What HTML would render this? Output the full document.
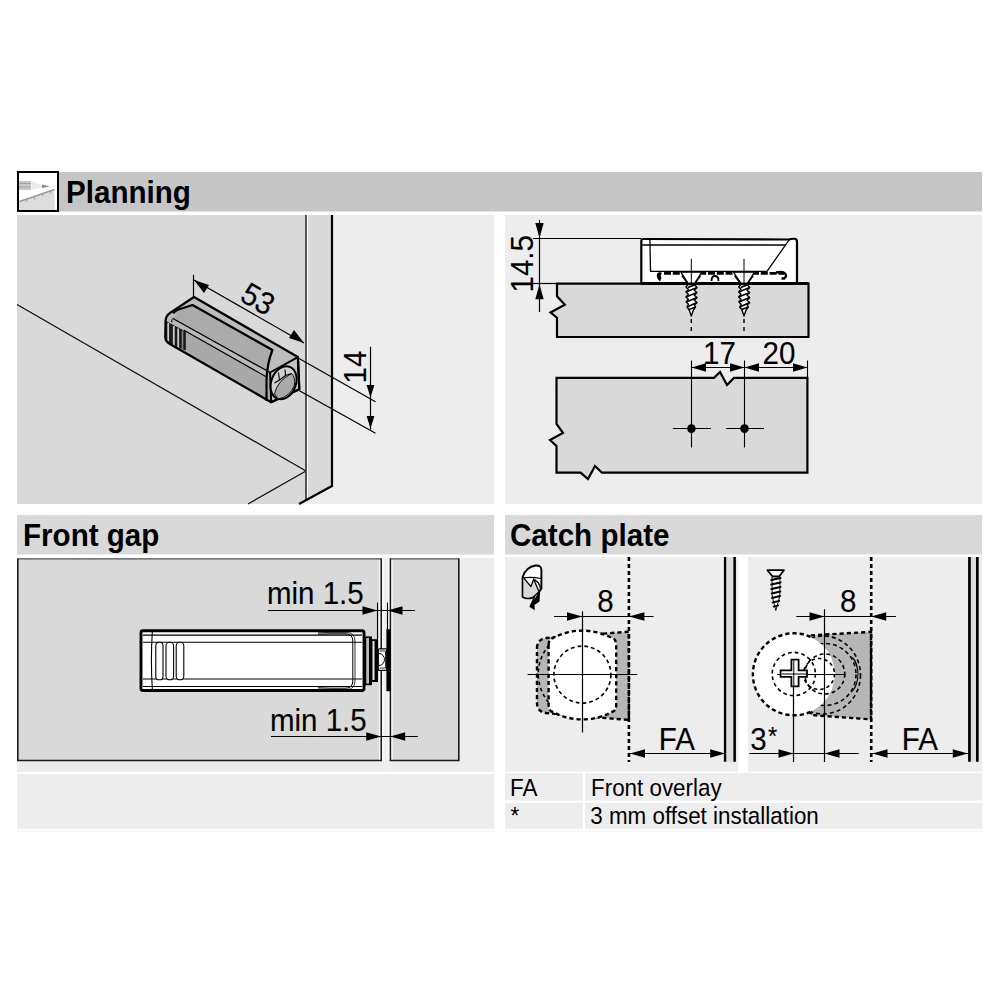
<!DOCTYPE html>
<html><head><meta charset="utf-8">
<style>
html,body{margin:0;padding:0;background:#fff;width:1000px;height:1000px;overflow:hidden}
svg{display:block}
text{font-family:"Liberation Sans",sans-serif;fill:#000}
.hb{font-weight:bold;font-size:29.6px}
.dim{font-size:29.5px;stroke:#000;stroke-width:0.1px}
.tb{font-size:22.4px}
</style></head><body>
<svg width="1000" height="1000" viewBox="0 0 1000 1000">


<!-- ============ PLANNING HEADER ============ -->
<rect x="59" y="172" width="923" height="39.5" fill="#c6c6c6"/>
<rect x="18" y="172" width="40" height="39" fill="#fff" stroke="#000" stroke-width="2"/>
<path d="M19,202 L54,189 L55,210 L19,210 Z" fill="#dcdcdc"/>
<path d="M19.5,201.5 L54.5,189.5" stroke="#9a9a9a" stroke-width="1.5"/>
<path d="M26,199 L27,202 M34,196.5 L35,199.5 M42,193.5 L43,196.5 M50,190.5 L51,193.5" stroke="#9a9a9a" stroke-width="1"/>
<rect x="19" y="181" width="12" height="9" fill="#c8c8c8"/>
<path d="M19,183.5 H31 M19,187 H31" stroke="#a0a0a0" stroke-width="1"/>
<path d="M31,181 L45,186.5 L31,190 Z" fill="#ececec"/>
<path d="M42,184.5 L50,186.5 L42,188 Z" fill="#8a8a8a"/>
<text class="hb" x="66" y="203" transform="translate(0,203) scale(1,1.07) translate(0,-203)">Planning</text>

<!-- ============ PLANNING PANEL ============ -->
<rect x="17" y="215" width="477" height="289" fill="#ededed"/>
<rect x="17" y="215" width="315" height="289" fill="#d9d9d9"/>
<rect x="332" y="486" width="20" height="18" fill="#ededed"/>
<path d="M332,486 L299,504 L332,504 Z" fill="#ededed"/>
<!-- cabinet lines -->
<line x1="17" y1="304.5" x2="306" y2="471" stroke="#111" stroke-width="1.3"/>
<line x1="306" y1="471" x2="248" y2="504" stroke="#111" stroke-width="1.3"/>
<line x1="306" y1="215" x2="306" y2="500" stroke="#333" stroke-width="1.6"/>
<line x1="307.5" y1="215" x2="307.5" y2="498" stroke="#fff" stroke-width="1"/>
<line x1="332" y1="215" x2="332" y2="487" stroke="#000" stroke-width="2.2"/>
<line x1="332" y1="486" x2="299" y2="504" stroke="#000" stroke-width="2.2"/>
<!-- product (planning) -->
<g stroke-linejoin="round">
<path d="M194,297 L297.9,357.1 L299.3,389.3 L271.2,402.2 L171.2,344.8 Q165.3,342 165.3,337 L165.6,321 Q166,315 170.1,312.9 Z" fill="#a9a9a9"/>
<path d="M194,297 L297.9,357.1 L270.1,372.5 L172.9,318.5 L166,320 Q166,315 170.1,312.9 Z" fill="#bdbdbd"/>
<path d="M171,322 Q171,313 177,310 L192.5,305 L272.4,350 Q268.5,360 268.5,372 L172.9,318.5 Z" fill="#ababab"/>
<path d="M172.9,318.5 L270.1,372.5 L270,379 L184,330.2 L173,325 Z" fill="#bababa"/>
<path d="M171,322 Q171,313 177,310 L192.5,305 L272.4,350 Q267,364 266.5,380 L266.5,401" fill="none" stroke="#000" stroke-width="2.2"/>
<path d="M270.1,372.5 L297.9,357.1 L299.3,389.3 L271.2,402.2 Z" fill="#c4c4c4" stroke="#000" stroke-width="2"/>
<line x1="172.9" y1="318.5" x2="270.1" y2="372.5" stroke="#000" stroke-width="1.3"/>
<line x1="184" y1="330.2" x2="267" y2="377.2" stroke="#000" stroke-width="1.2"/>
<!-- rear ribs -->
<path d="M165.6,321 L185.8,331.5 L185.8,350.4 L171.2,344.8 Q165.3,342 165.3,337 Z" fill="#1a1a1a"/>
<path d="M168.2,323 L168.2,341.5 M173.8,326 L173.8,346.6 M178.2,328.5 L178.2,348" stroke="#c8c8c8" stroke-width="1.8"/>
<path d="M182.5,330.5 L182.5,349.2" stroke="#888" stroke-width="1.6"/>
<path d="M166,320 Q166,314 171,312.5 L177,315 Q171,317 170.8,323 Z" fill="#bdbdbd"/>
<path d="M194,297 L297.9,357.1 L299.3,389.3 L271.2,402.2 L171.2,344.8 Q165.3,342 165.3,337 L165.6,321 Q166,315 170.1,312.9 Z" fill="none" stroke="#000" stroke-width="2.3"/>
<!-- hole -->
<ellipse cx="283.6" cy="382.8" rx="12.3" ry="17" transform="rotate(21 283.6 382.8)" fill="#d0d0d0" stroke="#000" stroke-width="2"/>
<path d="M274.5,394 Q277,381 291.5,373.5 Q295.5,377 294.5,385 Q290,397 278,399 Z" fill="#aaaaaa" stroke="#000" stroke-width="0.9"/>
<path d="M274.5,383 L279.5,380 L278.5,372.5 M279.5,380 L285.5,375.5 L285,369.5 M285.5,375.5 L291.5,373.5" fill="none" stroke="#000" stroke-width="1.1"/>
</g>
<!-- extension lines for 14 -->
<line x1="299" y1="358.5" x2="375.5" y2="401.8" stroke="#000" stroke-width="1.2"/>
<line x1="299.5" y1="390.8" x2="375.5" y2="433.3" stroke="#000" stroke-width="1.2"/>
<line x1="370.5" y1="346.8" x2="370.5" y2="429.6" stroke="#000" stroke-width="1.2"/>
<path d="M370.5,397.5 L366.6,385 L374.4,385 Z M370.5,428.5 L366.6,416 L374.4,416 Z" fill="#000"/>
<text class="dim" transform="translate(366.1,367) rotate(-90) scale(1,1.06)" text-anchor="middle">14</text>
<!-- 53 dimension -->
<line x1="193.5" y1="274.8" x2="193.5" y2="296.5" stroke="#000" stroke-width="1.2"/>
<line x1="194" y1="280" x2="304" y2="343" stroke="#000" stroke-width="1.2"/>
<path d="M194,280 L204,293 L209,285 Z M304,343 L289,338 L294,330 Z" fill="#000"/>
<text class="dim" transform="translate(252.6,308.2) rotate(29.8) scale(1,1.06)" text-anchor="middle">53</text>

<!-- ============ RIGHT TOP PANEL ============ -->
<rect x="505" y="215" width="477" height="289" fill="#ededed"/>
<!-- 14.5 dim -->
<line x1="539.5" y1="220" x2="539.5" y2="312" stroke="#000" stroke-width="1.2"/>
<path d="M539.5,238 L535.3,223 L543.7,223 Z M539.5,284.3 L535.3,299.3 L543.7,299.3 Z" fill="#000"/>
<line x1="533" y1="238.5" x2="641" y2="238.5" stroke="#000" stroke-width="1.2"/>
<line x1="533" y1="283.5" x2="557" y2="283.5" stroke="#000" stroke-width="1.2"/>
<text class="dim" transform="translate(532.7,263.8) rotate(-90) scale(1,1.06)" text-anchor="middle">14.5</text>
<!-- upper board -->
<path d="M557,283.6 H808.5 V337 H557 V317.7 L550.5,312.5 L564.8,304.7 L557,296.3 Z" fill="#d9d9d9" stroke="#000" stroke-width="2.2" stroke-linejoin="miter"/>
<!-- catch body side view -->
<path d="M641.3,283 V241 Q641.3,239 643.5,239 L789,239.5 Q791,238.6 795,238.8 Q797,239 797,242 V283 Z" fill="#fff" stroke="#000" stroke-width="2.2"/>
<path d="M641.3,245 H785" stroke="#000" stroke-width="1.4"/>
<path d="M649.9,239.5 L650.5,271.4 H767 L789,240" fill="none" stroke="#000" stroke-width="1.3"/>
<path d="M664,273.3 H784" stroke="#000" stroke-width="2.8" stroke-dasharray="7,1.8"/>
<path d="M660,272 q-3.5,0.5 -3.2,4 q0.5,4 3.2,5.5 L661.5,278 Q660,275 662,273 Z" fill="#000"/>
<path d="M711.5,281 q0,-5 3.5,-5 q3.5,0 3.5,5" fill="none" stroke="#000" stroke-width="1.8"/>
<path d="M776,272.5 q7,-1.5 9,1 q2.5,2.5 -1,5 l-2.5,0" fill="none" stroke="#000" stroke-width="2.4"/>
<line x1="641" y1="283.5" x2="808.5" y2="283.5" stroke="#000" stroke-width="3"/>
<!-- screws -->
<g>
<path d="M680.8,272.2 L701.5,272.2 L695.2,283 L688,283 Z" fill="#fff" stroke="#000" stroke-width="1.2"/>
<path d="M682,275.5 l5.5,7.5 M700.5,275.5 l-5.5,7.5" stroke="#000" stroke-width="1.8"/>
<path d="M688,284.5 L686,287 L688.3,289.3 L686,292 L688.3,294.3 L686,297 L688.3,299.3 L686.2,302 L688.5,304.3 L687,307 L689,309.5 L691.3,316 L693.6,309.5 L695.6,307 L694.4,305 L697,302.5 L694.3,300.3 L697,297.5 L694.3,295.3 L697,292.5 L694.3,290.3 L697,287.5 L694.5,284.5 Z" fill="#fff" stroke="#000" stroke-width="1.4" stroke-linejoin="round"/>
<path d="M686,292 L697,287.5 M686,297 L697,292.5 M686.2,302 L697,297.5 M687,307 L697,302.5 M689,309.5 L695.6,307 M688,287.5 L694.5,285" stroke="#000" stroke-width="1.5"/>
<path d="M691.3,319 V333" stroke="#000" stroke-width="1.4" stroke-dasharray="4,4"/>
<line x1="691.3" y1="258.8" x2="691.3" y2="284" stroke="#000" stroke-width="1"/>
</g>
<g transform="translate(52.7,0)">
<path d="M680.8,272.2 L701.5,272.2 L695.2,283 L688,283 Z" fill="#fff" stroke="#000" stroke-width="1.2"/>
<path d="M682,275.5 l5.5,7.5 M700.5,275.5 l-5.5,7.5" stroke="#000" stroke-width="1.8"/>
<path d="M688,284.5 L686,287 L688.3,289.3 L686,292 L688.3,294.3 L686,297 L688.3,299.3 L686.2,302 L688.5,304.3 L687,307 L689,309.5 L691.3,316 L693.6,309.5 L695.6,307 L694.4,305 L697,302.5 L694.3,300.3 L697,297.5 L694.3,295.3 L697,292.5 L694.3,290.3 L697,287.5 L694.5,284.5 Z" fill="#fff" stroke="#000" stroke-width="1.4" stroke-linejoin="round"/>
<path d="M686,292 L697,287.5 M686,297 L697,292.5 M686.2,302 L697,297.5 M687,307 L697,302.5 M689,309.5 L695.6,307 M688,287.5 L694.5,285" stroke="#000" stroke-width="1.5"/>
<path d="M691.3,319 V333" stroke="#000" stroke-width="1.4" stroke-dasharray="4,4"/>
<line x1="691.3" y1="258.8" x2="691.3" y2="284" stroke="#000" stroke-width="1"/>
</g>

<!-- lower board -->
<path d="M556.5,377.9 H714 L720,372 L727,385 L734,377.9 H807.4 V472.7 H602 L595,466 L588,479 L580.6,472.7 H556.5 V446 L550,440 L563,433 L556.5,424 Z" fill="#d9d9d9" stroke="#000" stroke-width="2.2" stroke-linejoin="miter"/>
<!-- hole marks -->
<path d="M691.5,360.5 V447.5 M744.5,360.5 V447.5 M672.8,428.5 H711 M726,428.5 H764" stroke="#000" stroke-width="1.1"/>
<line x1="807.5" y1="360.5" x2="807.5" y2="378" stroke="#000" stroke-width="1.1"/>
<circle cx="691.4" cy="428.6" r="4.3" fill="#000"/>
<circle cx="744.5" cy="428.6" r="4.3" fill="#000"/>
<line x1="691.5" y1="367.5" x2="807.5" y2="367.5" stroke="#000" stroke-width="1.2"/>
<path d="M691.5,367.5 L706,363.3 L706,371.7 Z M744.5,367.5 L730,363.3 L730,371.7 Z M744.5,367.5 L759,363.3 L759,371.7 Z M807.5,367.5 L793,363.3 L793,371.7 Z" fill="#000"/>
<text class="dim" transform="translate(719.5,363.8) scale(1,1.06)" text-anchor="middle">17</text>
<text class="dim" transform="translate(779,363.8) scale(1,1.06)" text-anchor="middle">20</text>

<!-- ============ FRONT GAP HEADER ============ -->
<rect x="17" y="515" width="477" height="39.5" fill="#d9d9d9"/>
<text class="hb" x="23" y="546.3" transform="translate(0,546.3) scale(1,1.07) translate(0,-546.3)">Front gap</text>

<!-- ============ CATCH PLATE HEADER ============ -->
<rect x="505" y="515" width="477" height="39.5" fill="#d9d9d9"/>
<text class="hb" x="510" y="546.3" transform="translate(0,546.3) scale(1,1.07) translate(0,-546.3)">Catch plate</text>

<!-- ============ FRONT GAP PANEL ============ -->
<rect x="17" y="558" width="477" height="214" fill="#ededed"/>
<rect x="17" y="558" width="365" height="203" fill="#d9d9d9"/>
<rect x="382" y="558" width="8" height="214" fill="#efefef"/>
<rect x="390" y="558" width="69" height="203" fill="#d9d9d9"/>
<path d="M17.8,558.8 H381.2 M390.4,558.8 H458.8" stroke="#555" stroke-width="1.3"/>
<path d="M17.8,558.5 V760.5 H381.2 V558.5 M390.4,558.5 V760.5 H458.8 V558.5" fill="none" stroke="#1a1a1a" stroke-width="1.6"/>
<path d="M379.6,560 V759.5 M392.1,560 V759.5" stroke="#fafafa" stroke-width="1.1"/>
<path d="M383,559 V760 M388.7,559 V760" stroke="#fcfcfc" stroke-width="1"/>

<rect x="17" y="774" width="477" height="55" fill="#ededed"/>
<!-- catch body top view -->
<g>
<path d="M143,630.8 H362 Q364,630.8 364,632.8 V688.5 Q364,690.5 362,690.5 H143 Q141,690.5 141,688.5 V632.8 Q141,630.8 143,630.8 Z" fill="#fff" stroke="#000" stroke-width="2.9"/>
<path d="M143,635.1 H362 M143,642.3 H362 M143,679 H362 M143,686.5 H362" stroke="#000" stroke-width="1.1" fill="none"/>
<path d="M318,634.2 Q330,633.6 346,633.8 Q352.8,634.2 352.8,641 V681 Q352.8,687.8 346,688.2 Q330,688.4 318,687.8" fill="none" stroke="#000" stroke-width="1"/>
<path d="M318,632.8 Q330,632.2 346.5,632.4 Q355,632.8 355,641 V681 Q355,689.3 346.5,689.6 Q330,689.8 318,689.2" fill="none" stroke="#000" stroke-width="0.8"/>
<path d="M152.3,632 Q150.5,660 152.3,689" fill="none" stroke="#000" stroke-width="1.1"/>
<rect x="155.8" y="642.3" width="7.2" height="37.5" rx="3.4" fill="#fff" stroke="#000" stroke-width="1.1"/>
<rect x="166" y="642.3" width="7.6" height="37.5" rx="3.6" fill="#fff" stroke="#000" stroke-width="1.1"/>
<rect x="176.2" y="642.3" width="7.6" height="37.5" rx="3.6" fill="#fff" stroke="#000" stroke-width="1.1"/>
<!-- steps -->
<rect x="365" y="636.4" width="7" height="48.8" fill="#000"/>
<rect x="366.2" y="638" width="2.8" height="45.6" fill="#b8b8b8"/>
<rect x="372" y="639.2" width="6" height="42.8" fill="#000"/>
<rect x="372.5" y="641" width="2" height="39" fill="#e8e8e8"/>
<!-- pin -->
<rect x="378.3" y="648.8" width="8.5" height="21.6" rx="1" fill="#fff" stroke="#000" stroke-width="1.2"/>
<path d="M379.5,651 H385.5 V668 H379.5" fill="none" stroke="#000" stroke-width="0.8"/>
<path d="M379,653.5 A5,5.5 0 0 1 379,665.5" fill="none" stroke="#000" stroke-width="1"/>
<!-- plate -->
<rect x="386.4" y="629.2" width="4.2" height="62" fill="#000"/>
</g>
<!-- min 1.5 dims -->
<line x1="377.5" y1="602.6" x2="377.5" y2="648.8" stroke="#000" stroke-width="1.1"/>
<line x1="387.5" y1="602.6" x2="387.5" y2="629.2" stroke="#000" stroke-width="1.1"/>
<line x1="268" y1="610.5" x2="415" y2="610.5" stroke="#000" stroke-width="1.2"/>
<path d="M377.5,610.5 L362.5,606.3 L362.5,614.7 Z M387.5,610.5 L402.5,606.3 L402.5,614.7 Z" fill="#000"/>
<text class="dim" transform="translate(267,604.2) scale(1,1.06)">min 1.5</text>
<line x1="271" y1="736.5" x2="418" y2="736.5" stroke="#000" stroke-width="1.2"/>
<path d="M381.2,736.5 L366.2,732.3 L366.2,740.7 Z M390.2,736.5 L405.2,732.3 L405.2,740.7 Z" fill="#000"/>
<text class="dim" transform="translate(270,731) scale(1,1.06)">min 1.5</text>

<!-- ============ CATCH PLATE PANEL ============ -->
<rect x="505" y="557" width="233" height="214.6" fill="#ededed"/>
<rect x="748" y="557" width="234" height="214.6" fill="#ededed"/>
<!-- left sub-panel -->
<g>
<path d="M725.2,557 V761.7 M734.6,557 V761.7" stroke="#000" stroke-width="2.6"/>
<rect x="726.5" y="557" width="6.6" height="204.7" fill="#dcdcdc"/>
<path d="M537,648 Q537,639.5 546,638 L628.9,631.7 V720 L546,713 Q537,711.5 537,703 Z" fill="#b6b6b6" stroke="#000" stroke-width="2.4" stroke-dasharray="4.2,3"/>
<path d="M548.6,645 Q548.6,639 553,638 A62,62 0 0 1 611.8,638 Q616.2,639 616.2,645 V705 Q616.2,711 611.8,712 A62,62 0 0 1 553,712 Q548.6,711 548.6,705 Z" fill="#fff" stroke="#000" stroke-width="2.4" stroke-dasharray="4.2,3"/>
<path d="M548.6,702.3 A44,44 0 0 1 548.6,645.7" fill="none" stroke="#000" stroke-width="1.6" stroke-dasharray="3.5,3"/>
<circle cx="582.4" cy="674.6" r="28.5" fill="none" stroke="#000" stroke-width="1.6" stroke-dasharray="3.8,3"/>
<path d="M527.6,674.5 H637.3 M582.5,611.2 V732.4" stroke="#000" stroke-width="1.2"/>
<line x1="628.9" y1="557" x2="628.9" y2="762" stroke="#000" stroke-width="2.6" stroke-dasharray="4,3"/>
<line x1="554" y1="616.5" x2="653.6" y2="616.5" stroke="#000" stroke-width="1.2"/>
<path d="M582.5,616.5 L567,612.3 L567,620.7 Z M628.9,616.5 L644.4,612.3 L644.4,620.7 Z" fill="#000"/>
<text class="dim" transform="translate(605.5,612.2) scale(1,1.06)" text-anchor="middle">8</text>
<line x1="629" y1="753.5" x2="725.2" y2="753.5" stroke="#000" stroke-width="1.2"/>
<path d="M630,753.5 L645,749.3 L645,757.7 Z M725.2,753.5 L710.2,749.3 L710.2,757.7 Z" fill="#000"/>
<text class="dim" transform="translate(676.8,749.6) scale(1,1.06)" text-anchor="middle">FA</text>
<!-- catch icon -->
<path d="M522.6,597 V577 Q526,567 535.5,565.5 Q541.4,565.2 541.4,570 V588.5 Q539,593 533,597.5 Q527,599.5 522.6,597 Z" fill="#fff" stroke="#000" stroke-width="1.9" stroke-linejoin="round"/>
<path d="M523.6,578.5 L530.9,586.4 L533.7,579.3 L538.3,590.5 Q536,594 532,596.5 Q526,598.5 523.6,596 Z" fill="#d9d9d9"/>
<path d="M523,577.8 Q532,576.5 541,578.5" fill="none" stroke="#000" stroke-width="1.2"/>
<path d="M524,578.4 L530.9,586.4 L533.7,579.3 L538.6,590.8 M534.5,579.5 L538,582.5 Q540,585 540.5,589" fill="none" stroke="#000" stroke-width="1.3"/>
<path d="M540.2,590.5 L539.5,601.5 L534.5,605 L534.8,610.3 L529.3,606.8 L533,598.5 Z" fill="#000"/>
<path d="M535.5,596 L538,593.5 L534,599.5 Z" fill="#fff"/>
</g>
<!-- right sub-panel -->
<g>
<path d="M969.5,557 V761.7 M977.3,557 V761.7" stroke="#000" stroke-width="2.8"/>
<rect x="970.9" y="557" width="5" height="204.7" fill="#dcdcdc"/>
<path d="M810.8,635.4 L871,631.9 L871,719.4 L810.8,715 Z" fill="#b6b6b6" stroke="#000" stroke-width="2.4" stroke-dasharray="4.2,3"/>
<ellipse cx="823" cy="675" rx="37.5" ry="39" fill="none" stroke="#000" stroke-width="1.6" stroke-dasharray="4,3"/>
<circle cx="825" cy="674.5" r="31" fill="none" stroke="#000" stroke-width="1.6" stroke-dasharray="4,3"/>
<path d="M851,656 Q864,674 851,693 Q855,690 857,684 Q860,674 857,664 Q855,658 851,656 Z" fill="#000"/>
<circle cx="793.8" cy="674.3" r="41" fill="#fff"/>
<path d="M810.5,636.8 A41,41 0 1 0 810.5,711.8" fill="none" stroke="#000" stroke-width="2.4" stroke-dasharray="4.2,3"/>
<circle cx="793.8" cy="674" r="21.6" fill="none" stroke="#000" stroke-width="1.6" stroke-dasharray="3.8,3"/>
<circle cx="824.8" cy="674" r="20" fill="none" stroke="#000" stroke-width="1.6" stroke-dasharray="3.8,3"/>
<circle cx="819" cy="674" r="15.5" fill="none" stroke="#000" stroke-width="1.6" stroke-dasharray="3.5,3"/>
<path d="M777.2,674.5 H845.8 M793.5,687 V762 M824.5,609.3 V762" stroke="#000" stroke-width="1.2"/>
<path d="M780.6,670.4 H791.4 V659.6 H798.6 V670.4 H807 V676.8 H798.6 V686.4 H791.4 V676.8 H780.6 Z" fill="#fff" stroke="#000" stroke-width="1.8"/>
<path d="M782,674 H806 M793.8,660.5 V686" stroke="#000" stroke-width="1"/>
<line x1="871.2" y1="557" x2="871.2" y2="762" stroke="#000" stroke-width="2.6" stroke-dasharray="4,3"/>
<line x1="796.3" y1="616.5" x2="895.9" y2="616.5" stroke="#000" stroke-width="1.2"/>
<path d="M824.5,616.5 L809.5,612.3 L809.5,620.7 Z M871.2,616.5 L886.2,612.3 L886.2,620.7 Z" fill="#000"/>
<text class="dim" transform="translate(848.3,611.5) scale(1,1.06)" text-anchor="middle">8</text>
<line x1="749.5" y1="753.5" x2="858.7" y2="753.5" stroke="#000" stroke-width="1.2"/>
<path d="M793.5,753.5 L778.5,749.3 L778.5,757.7 Z M824.5,753.5 L839.5,749.3 L839.5,757.7 Z" fill="#000"/>
<text class="dim" transform="translate(750.3,749.5) scale(1,1.06)">3<tspan font-size="23.5" dx="1.2" dy="-4.3">*</tspan></text>
<line x1="871.5" y1="753.5" x2="968" y2="753.5" stroke="#000" stroke-width="1.2"/>
<path d="M872.5,753.5 L887.5,749.3 L887.5,757.7 Z M967.8,753.5 L952.8,749.3 L952.8,757.7 Z" fill="#000"/>
<text class="dim" transform="translate(919.8,749.6) scale(1,1.06)" text-anchor="middle">FA</text>
<!-- screw icon -->
<path d="M767.4,570.2 H783.9 L779.2,576.5 H772.6 Z" fill="#fff" stroke="#000" stroke-width="1.8" stroke-linejoin="round"/>
<path d="M772,577 H780 L779.8,596 L775.8,610.6 L772.2,596 Z" fill="#fff" stroke="#000" stroke-width="0.9"/>
<path d="M771.2,580 L780.6,578 M771.2,584.5 L780.6,582.5 M771.3,589 L780.6,587 M771.6,593.5 L780.4,591.5 M772,598 L780,596 M772.6,602.5 L779.2,600.8 M773.6,606.6 L778.2,605.4" stroke="#000" stroke-width="1.9" stroke-linecap="round"/>
</g>

<!-- ============ TABLE ============ -->
<rect x="505" y="773" width="78" height="27.5" fill="#ededed"/>
<rect x="585" y="773" width="397" height="27.5" fill="#ededed"/>
<rect x="505" y="803" width="78" height="26" fill="#ededed"/>
<rect x="585" y="803" width="397" height="26" fill="#ededed"/>
<rect x="17" y="830.3" width="477" height="1.6" fill="#f4f4f4"/>
<rect x="505" y="830.3" width="477" height="1.6" fill="#f4f4f4"/>
<text class="tb" x="510" y="796" transform="translate(0,796) scale(1,1.08) translate(0,-796)">FA</text>
<text class="tb" x="591" y="796" transform="translate(0,796) scale(1,1.08) translate(0,-796)">Front overlay</text>
<text class="tb" x="510.5" y="824" transform="translate(0,824) scale(1,1.08) translate(0,-824)">*</text>
<text class="tb" x="590.3" y="824" transform="translate(0,824) scale(1,1.08) translate(0,-824)">3 mm offset installation</text>

</svg>
</body></html>
